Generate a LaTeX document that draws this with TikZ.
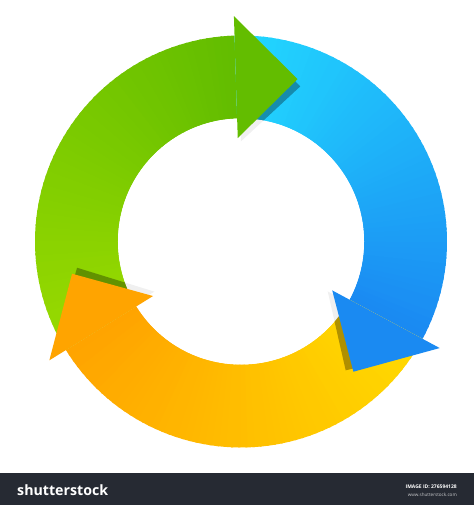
\documentclass[tikz,border=0pt]{standalone}
\usepackage{fontspec}
\setmainfont{Open Sans}
\definecolor{gTail}{HTML}{98DA00}
\definecolor{gHead}{HTML}{63BD00}
\definecolor{bTail}{HTML}{22D8FF}
\definecolor{bHead}{HTML}{1A8AF2}
\definecolor{oTail}{HTML}{FFDA00}
\definecolor{oHead}{HTML}{FFA400}
\definecolor{barbg}{HTML}{262A33}
\newcommand\ringbody[3]{%
  \foreach \k in {0,...,59}{%
    \pgfmathsetmacro\aS{#1-2*\k}%
    \pgfmathsetmacro\aE{#1-2*\k-(\k<59 ? 2.6 : 2)}%
    \pgfmathtruncatemacro\p{round(100*\k/59)}%
    \fill[#3!\p!#2] (\aS:206) arc[start angle=\aS, end angle=\aE, radius=206]
      -- (\aE:123) arc[start angle=\aE, end angle=\aS, radius=123] -- cycle;
  }%
}
\newcommand\shadowtris{%
  \fill (90.1:217.6) -- (69.1:166) -- (90.1:100) -- cycle;
  \fill (-29.9:217.6) -- (-50.9:166) -- (-29.9:100) -- cycle;
  \fill (210.1:217.6) -- (189.1:166) -- (210.1:100) -- cycle;
}
\tikzset{
  bartext/.style={inner sep=0pt, text=white}
}
\begin{document}
\begin{tikzpicture}[x=1pt,y=1pt]
\useasboundingbox (-241,-263.5) rectangle (233,241.5);
\fill[white] (-241,-263.5) rectangle (233,241.5);
% bodies
\ringbody{211.8}{gTail}{gHead}
\ringbody{91.8}{bTail}{bHead}
\ringbody{-28.2}{oTail}{oHead}
% head shadows on the ring
\begin{scope}
  \clip (0,0) circle[radius=206];
  \begin{scope}[fill=black, fill opacity=0.27]
    \shadowtris
  \end{scope}
\end{scope}
\fill[white] (0,0) circle[radius=123];
% faint shadows on the white ground
\begin{scope}[fill=black, fill opacity=0.06]
  \shadowtris
\end{scope}
% heads
\fill[gHead] (91.8:225.5) -- (70.8:172) -- (91.8:103.5) -- cycle;
\fill[bHead] (-28.2:225.5) -- (-49.2:172) -- (-28.2:103.5) -- cycle;
\fill[oHead] (211.8:225.5) -- (190.8:172) -- (211.8:103.5) -- cycle;
% bottom bar
\fill[barbg] (-241,-263.5) rectangle (233,-231.5);
\node[bartext, anchor=base west, font=\fontsize{14.2}{16}\selectfont\bfseries] (logo) at (-224,-253.5) {shutterstock};
\node[bartext, anchor=base east, font=\fontsize{5}{6}\selectfont\bfseries] (imgid) at (216,-246.5) {IMAGE ID: 276594128};
\node[bartext, anchor=base east, font=\fontsize{4.6}{6}\selectfont, text=white!75!barbg] (site) at (216,-254.5) {www.shutterstock.com};
\end{tikzpicture}
\end{document}
